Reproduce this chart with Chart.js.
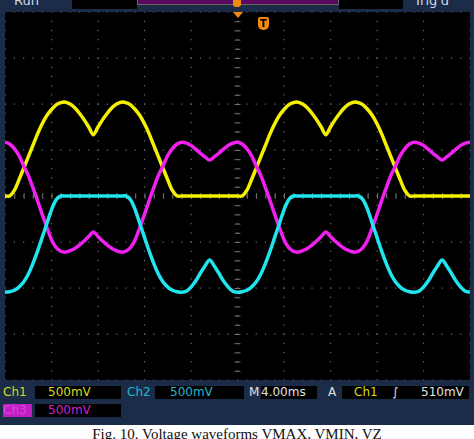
<!DOCTYPE html>
<html>
<head>
<meta charset="utf-8">
<script src="https://cdn.jsdelivr.net/npm/chart.js@4"></script>
<style>
  body { margin: 0; width: 474px; height: 439px; background: #fff; overflow: hidden; position: relative; font-family: "DejaVu Sans", sans-serif; }
  #screen { position: absolute; left: 0; top: 0; width: 474px; height: 425px; background: #1b2c48; }
  #plot { position: absolute; left: 5px; top: 12px; width: 465px; height: 368px; background: #000; }
  .box { position: absolute; background: #000; height: 13px; }
  .t { position: absolute; font-size: 12px; line-height: 13px; white-space: pre; }
  #caption { position: absolute; left: 0; width: 474px; top: 426px; text-align: center; font-family: "Liberation Serif", serif; font-size: 15px; color: #111; }
</style>
</head>
<body>
<div id="screen">
  <!-- top status strip -->
  <div class="box" style="left:72px;top:0;width:65px;height:9px"></div>
  <div style="position:absolute;left:137px;top:0;width:200px;height:4px;background:#5a0a5e;border:1px solid #666;border-top:none"></div>
  <div class="box" style="left:339px;top:0;width:64px;height:9px"></div>
  <div class="t" style="left:14px;top:-6px;color:#cfd8e8;font-size:13px">Run</div>
  <div class="t" style="left:414px;top:-6px;color:#cfd8e8;font-size:13px">Trig'd</div>
  <div style="position:absolute;left:233px;top:0;width:8px;height:7px;background:#f08a10;border-radius:0 0 3px 3px"></div>
  <div id="plot"><canvas id="scope"></canvas></div>
  <div style="position:absolute;left:233px;top:12px;width:0;height:0;border-left:5px solid transparent;border-right:5px solid transparent;border-top:6px solid #f08a10"></div>
  <div style="position:absolute;left:258px;top:17px;width:11px;height:13px;background:#f08a10;border-radius:2px 2px 5px 5px;color:#000;font-size:10px;font-weight:bold;text-align:center;line-height:13px">T</div>
  <!-- bottom readouts -->
  <div class="t" style="left:3px;top:386px;color:#d8d820">Ch1</div>
  <div class="box" style="left:35px;top:386px;width:86px"></div>
  <div class="t" style="left:48px;top:386px;color:#d8d820">500mV</div>
  <div class="t" style="left:127px;top:386px;color:#22b8c8">Ch2</div>
  <div class="box" style="left:155px;top:386px;width:89px"></div>
  <div class="t" style="left:170px;top:386px;color:#22b8c8">500mV</div>
  <div class="t" style="left:249px;top:386px;color:#e0e0e0">M</div>
  <div class="box" style="left:261px;top:386px;width:56px"></div>
  <div class="t" style="left:261px;top:386px;color:#e0e0e0">4.00ms</div>
  <div class="t" style="left:328px;top:386px;color:#e0e0e0">A</div>
  <div class="box" style="left:342px;top:386px;width:127px"></div>
  <div class="t" style="left:354px;top:386px;color:#d8d820">Ch1</div>
  <div class="t" style="left:392px;top:386px;color:#e0e0e0">&#8747;</div>
  <div class="t" style="left:421px;top:386px;color:#e0e0e0">510mV</div>
  <div class="t" style="left:3px;top:404px;width:29px;background:#c020c0;color:#e040e0">Ch3</div>
  <div class="box" style="left:35px;top:404px;width:86px"></div>
  <div class="t" style="left:48px;top:404px;color:#d020d0">500mV</div>
</div>
<div id="caption">Fig. 10. Voltage waveforms VMAX, VMIN, VZ</div>

<script>
// time in ms (4 ms/div, 10 div)
const timeMs = [0,0.4,0.8,1.2,1.6,2,2.4,2.8,3.2,3.6,4,4.4,4.8,5.2,5.6,6,6.4,6.8,7.2,7.6,
  8,8.4,8.8,9.2,9.6,10,10.4,10.8,11.2,11.6,12,12.4,12.8,13.2,13.6,14,14.4,14.8,15.2,15.6,
  16,16.4,16.8,17.2,17.6,18,18.4,18.8,19.2,19.6,20,20.4,20.8,21.2,21.6,22,22.4,22.8,23.2,23.6,
  24,24.4,24.8,25.2,25.6,26,26.4,26.8,27.2,27.6,28,28.4,28.8,29.2,29.6,30,30.4,30.8,31.2,31.6,
  32,32.4,32.8,33.2,33.6,34,34.4,34.8,35.2,35.6,36,36.4,36.8,37.2,37.6,38,38.4,38.8,39.2,39.6,40];

// values in screen divisions (500 mV/div)
const vmax = [0,0,0.12,0.35,0.6,0.85,1.1,1.35,1.57,1.75,1.88,1.98,2.03,2.04,2.0,1.92,1.8,1.66,1.5,1.33,
  1.5,1.66,1.8,1.92,2.0,2.04,2.03,1.98,1.88,1.75,1.57,1.35,1.1,0.85,0.6,0.35,0.12,0,0,0,0,0,0,0,0,
  0,0,0,0,0,0,0,0.12,0.35,0.6,0.85,1.1,1.35,1.57,1.75,1.88,1.98,2.03,2.04,2.0,1.92,1.8,1.66,1.5,1.33,
  1.5,1.66,1.8,1.92,2.0,2.04,2.03,1.98,1.88,1.75,1.57,1.35,1.1,0.85,0.6,0.35,0.12,0,0,0,0,0,0,0,0,
  0,0,0,0,0,0];

const vz = [-2.09,-2.08,-2.05,-1.98,-1.87,-1.7,-1.47,-1.2,-0.9,-0.6,-0.3,-0.08,0,0,0,0,0,0,0,0,
  0,0,0,0,0,0,0,-0.08,-0.3,-0.6,-0.9,-1.2,-1.47,-1.7,-1.87,-1.98,-2.05,-2.08,-2.09,-2.07,-1.98,-1.85,-1.68,-1.52,-1.39,
  -1.52,-1.68,-1.85,-1.98,-2.07,-2.09,-2.08,-2.05,-1.98,-1.87,-1.7,-1.47,-1.2,-0.9,-0.6,-0.3,-0.08,0,0,0,0,0,0,0,0,
  0,0,0,0,0,0,0,-0.08,-0.3,-0.6,-0.9,-1.2,-1.47,-1.7,-1.87,-1.98,-2.05,-2.08,-2.09,-2.07,-1.98,-1.85,-1.68,-1.52,-1.39,
  -1.52,-1.68,-1.85,-1.98,-2.07,-2.09];

const vmin = [1.17,1.13,1.03,0.88,0.66,0.45,0.18,-0.1,-0.4,-0.68,-0.95,-1.12,-1.2,-1.22,-1.19,-1.14,-1.07,-0.98,-0.88,-0.78,
  -0.88,-0.98,-1.07,-1.14,-1.19,-1.22,-1.2,-1.12,-0.95,-0.68,-0.4,-0.1,0.18,0.45,0.66,0.88,1.03,1.13,1.17,1.15,1.1,1.02,0.93,0.85,0.78,
  0.85,0.93,1.02,1.1,1.15,1.17,1.13,1.03,0.88,0.66,0.45,0.18,-0.1,-0.4,-0.68,-0.95,-1.12,-1.2,-1.22,-1.19,-1.14,-1.07,-0.98,-0.88,-0.78,
  -0.88,-0.98,-1.07,-1.14,-1.19,-1.22,-1.2,-1.12,-0.95,-0.68,-0.4,-0.1,0.18,0.45,0.66,0.88,1.03,1.13,1.17,1.15,1.1,1.02,0.93,0.85,0.78,
  0.85,0.93,1.02,1.1,1.15,1.17];

const xDivs = [0,4,8,12,16,20,24,28,32,36,40];
const yDivs = [-4,-3,-2,-1,0,1,2,3,4];

// dotted oscilloscope graticule
const graticule = {
  id: 'graticule',
  beforeDatasetsDraw(chart) {
    const { ctx, scales: { x, y } } = chart;
    ctx.save();
    ctx.fillStyle = '#6e6e6e';
    xDivs.forEach(v => {
      const px = x.getPixelForValue(v);
      for (let t = -4; t <= 4; t += 0.2) ctx.fillRect(px - 0.5, y.getPixelForValue(t) - 0.5, 1.2, 1.2);
    });
    yDivs.forEach(v => {
      const py = y.getPixelForValue(v);
      for (let t = 0; t <= 40; t += 0.8) ctx.fillRect(x.getPixelForValue(t) - 0.5, py - 0.5, 1.2, 1.2);
    });
    // center cross ticks
    const cx = x.getPixelForValue(20), cy = y.getPixelForValue(0);
    for (let t = -4; t <= 4; t += 0.2) ctx.fillRect(cx - 3, y.getPixelForValue(t), 6, 1);
    for (let t = 0; t <= 40; t += 0.8) ctx.fillRect(x.getPixelForValue(t), cy - 3, 1, 6);
    ctx.restore();
  }
};

const mk = (data, color) => ({
  data: timeMs.map((t, i) => ({ x: t, y: data[i] })),
  borderColor: color, borderWidth: 3.5, pointRadius: 0, tension: 0.3, fill: false
});

new Chart(document.getElementById('scope'), {
  type: 'line',
  data: { datasets: [mk(vz, '#20e4ee'), mk(vmin, '#f020f0'), mk(vmax, '#f4f000')] },
  options: {
    responsive: true, maintainAspectRatio: false, animation: false,
    layout: { padding: 0 },
    plugins: { legend: { display: false }, tooltip: { enabled: false } },
    scales: {
      x: { type: 'linear', min: 0, max: 40, display: false },
      y: { min: -4, max: 4, display: false }
    }
  },
  plugins: [graticule]
});
</script>
</body>
</html>
